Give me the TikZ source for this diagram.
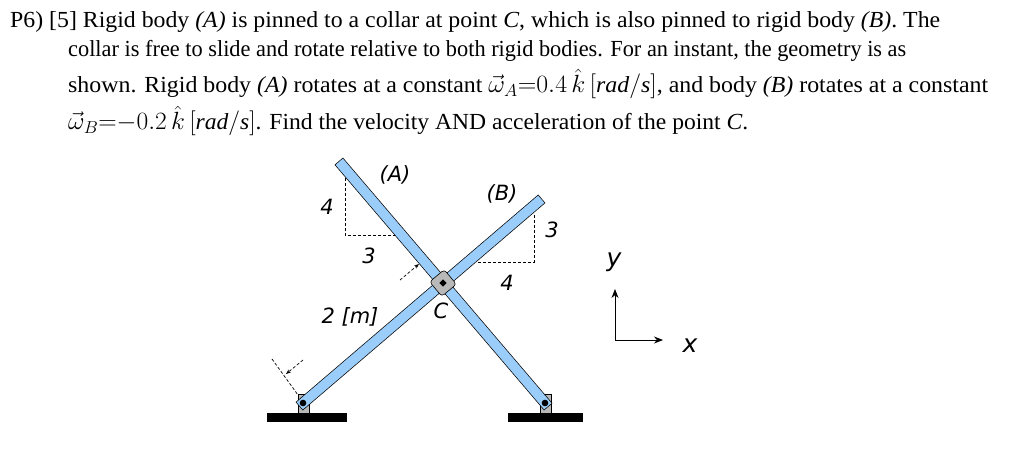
\documentclass[tikz,border=0pt]{standalone}
\usepackage{fontspec}
\setmainfont{Liberation Serif}
\newfontfamily\lblfont{DejaVu Sans}
\usetikzlibrary{arrows.meta,calc}
\begin{document}
\begin{tikzpicture}[x=1pt,y=-1pt,
  dimline/.style={densely dashed,line width=0.7pt},
  lbl/.style={font=\lblfont\itshape\fontsize{21}{21}\selectfont,inner sep=0pt},
  txt/.style={anchor=west,inner sep=0pt,font=\fontsize{23}{23}\selectfont},
  pinsup/.style={fill=gray!55,draw=black,line width=0.5pt}]
\useasboundingbox (0,0) rectangle (1024,448);
\definecolor{barc}{RGB}{155,205,250}
% text
\node[txt] (l1) at (10,22) {\resizebox{930pt}{\height}{P6) [5] Rigid body \textit{(A)} is pinned to a collar at point \textit{C}, which is also pinned to rigid body \textit{(B)}. The}};
\node[txt] (l2) at (68,51) {\resizebox{838pt}{\height}{collar is free to slide and rotate relative to both rigid bodies. For an instant, the geometry is as}};
\node[txt] (l3) at (68,84) {\resizebox{920pt}{\height}{shown. Rigid body \textit{(A)} rotates at a constant $\vec{\omega}_{A}{=}0.4\,\hat{k}\,[\mathit{rad}/\mathit{s}]$, and body \textit{(B)} rotates at a constant}};
\node[txt] (l4) at (68,121) {\resizebox{680pt}{\height}{$\vec{\omega}_{B}{=}{-}0.2\,\hat{k}\,[\mathit{rad}/\mathit{s}]$. Find the velocity AND acceleration of the point \textit{C}.}};
% ground
\fill (267,413) rectangle (347,422);
\fill (508,413) rectangle (583,422);
\filldraw[pinsup] (298,394) rectangle (309,413);
\filldraw[pinsup] (540,394) rectangle (551,413);
% bars
\coordinate (Atop) at (342,165);
\coordinate (Abot) at (545,403);
\coordinate (Bbot) at (303,403);
\coordinate (Btop) at (538,202);
\coordinate (C) at (443,283);
\draw[line width=11pt,black] ($(Bbot)!-5pt!(Btop)$) -- ($(Btop)!-5pt!(Bbot)$);
\draw[line width=9.6pt,barc] ($(Bbot)!-4.3pt!(Btop)$) -- ($(Btop)!-4.3pt!(Bbot)$);
\draw[line width=11pt,black] ($(Atop)!-5pt!(Abot)$) -- ($(Abot)!-5pt!(Atop)$);
\draw[line width=9.6pt,barc] ($(Atop)!-4.3pt!(Abot)$) -- ($(Abot)!-4.3pt!(Atop)$);
\fill (Abot) circle (3.3pt);
\fill (Bbot) circle (3.3pt);
% collar
\node[draw=black,fill=gray!55,rounded corners=3pt,minimum size=19pt,rotate=40,inner sep=0pt,line width=0.6pt] (col) at (C) {};
\node[fill=black,minimum size=5pt,inner sep=0pt,rotate=45] (pin) at (C) {};
% dims
\draw[dimline] (345,178) -- (345,235) -- (395,235);
\draw[dimline] (534,215) -- (534,262) -- (478,262);
\node[lbl] (n4a) at (327,207) {4};
\node[lbl] (n3a) at (369,256) {3};
\node[lbl] (n3b) at (552,230) {3};
\node[lbl] (n4b) at (507,283) {4};
\draw[dimline,-{Stealth[length=5pt]}] (400,280) -- (419,264);
\draw[dimline] (272,359) -- (298,395);
\draw[dimline,-{Stealth[length=5pt]}] (303,360) -- (286,374);
\node[lbl] (na) at (395,175) {(A)};
\node[lbl] (nb) at (502,194) {(B)};
\node[lbl] (nm) at (350,317) {2 [m]};
\node[lbl] (nc) at (441,311) {C};
% axes
\node[lbl,font=\lblfont\itshape\fontsize{25}{25}\selectfont] (ny) at (614,262) {y};
\node[lbl,font=\lblfont\itshape\fontsize{25}{25}\selectfont] (nx) at (690,346) {x};
\draw[-{Stealth[length=9pt,width=7pt]},line width=0.8pt] (615,322) -- (615,289);
\draw[-{Stealth[length=9pt,width=7pt]},line width=0.8pt] (615,340) -- (663,340);
\draw[line width=0.8pt] (615,322) -- (615,340);
\end{tikzpicture}
\end{document}
